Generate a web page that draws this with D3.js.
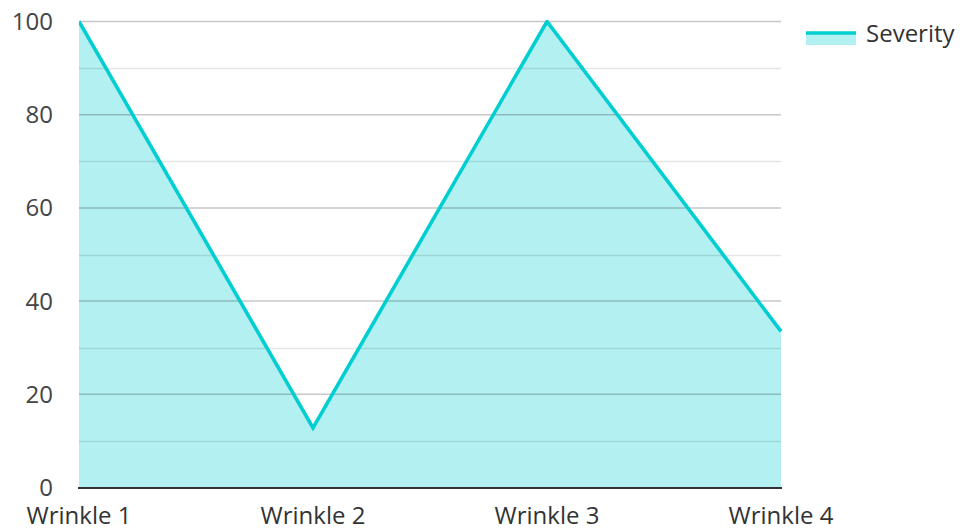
<!DOCTYPE html>
<html><head><meta charset="utf-8">
<script src="https://cdn.jsdelivr.net/npm/d3@7"></script>
<style>body{margin:0;background:#fff}svg{display:block}text{font-family:"Open Sans",sans-serif}</style>
</head><body><svg id="c" width="960" height="529"></svg>
<script>
const categories = ["Wrinkle 1","Wrinkle 2","Wrinkle 3","Wrinkle 4"];
const severity = [100, 12.8, 100, 33.5];
const yTicks = [0,20,40,60,80,100];
const minorTicks = [10,30,50,70,90];
const seriesName = "Severity";
const color = "#00ced1";

const svg = d3.select("#c");
const L = 79, R = 781, T = 21.5, B = 487.5;
const x = d3.scalePoint().domain(categories).range([L, R]);
const y = d3.scaleLinear().domain([0,100]).range([B, T]);

svg.append("defs").append("clipPath").attr("id","clip")
  .append("rect").attr("x", L).attr("y", T-1.5).attr("width", R-L+2).attr("height", B-T+3);

// area fill
const data = categories.map((c,i)=>({c, v: severity[i]}));
svg.append("path").datum(data)
  .attr("d", d3.area().x(d=>x(d.c)).y0(y(0)).y1(d=>y(d.v)))
  .attr("fill", color).attr("fill-opacity", 0.3);

// grid
svg.append("g").selectAll("line").data(minorTicks).join("line")
  .attr("x1", L).attr("x2", R).attr("y1", d=>Math.round(y(d))+0.5).attr("y2", d=>Math.round(y(d))+0.5)
  .attr("stroke", "#000").attr("stroke-opacity", 0.1).attr("stroke-width", 1.3);
svg.append("g").selectAll("line").data(yTicks.filter(d=>d>0)).join("line")
  .attr("x1", L).attr("x2", R).attr("y1", d=>y(d)).attr("y2", d=>y(d))
  .attr("stroke", "#000").attr("stroke-opacity", 0.22).attr("stroke-width", 1.5);

// line
svg.append("path").datum(data).attr("clip-path","url(#clip)")
  .attr("d", d3.line().x(d=>x(d.c)).y(d=>y(d.v)))
  .attr("fill", "none").attr("stroke", color).attr("stroke-width", 3.6).attr("stroke-linejoin","miter");

// x axis line
svg.append("line").attr("x1", L-1).attr("x2", R+1).attr("y1", B+0.5).attr("y2", B+0.5)
  .attr("stroke", "#333").attr("stroke-width", 2);

// y labels
svg.append("g").selectAll("text").data(yTicks).join("text")
  .attr("x", 53).attr("y", d=>y(d)+8.5).attr("text-anchor","end")
  .attr("font-size", 24).attr("fill", "#444").text(d=>d);

// x labels
svg.append("g").selectAll("text").data(categories).join("text")
  .attr("x", d=>x(d)).attr("y", 524).attr("text-anchor","middle")
  .attr("font-size", 24).attr("fill", "#333").text(d=>d);

// legend
const lg = svg.append("g");
lg.append("rect").attr("x", 806).attr("y", 33).attr("width", 50).attr("height", 12)
  .attr("fill", color).attr("fill-opacity", 0.3);
lg.append("line").attr("x1", 806).attr("x2", 856).attr("y1", 33).attr("y2", 33)
  .attr("stroke", color).attr("stroke-width", 3.6);
lg.append("text").attr("x", 866).attr("y", 42).attr("font-size", 24).attr("fill", "#333").text(seriesName);
</script></body></html>
